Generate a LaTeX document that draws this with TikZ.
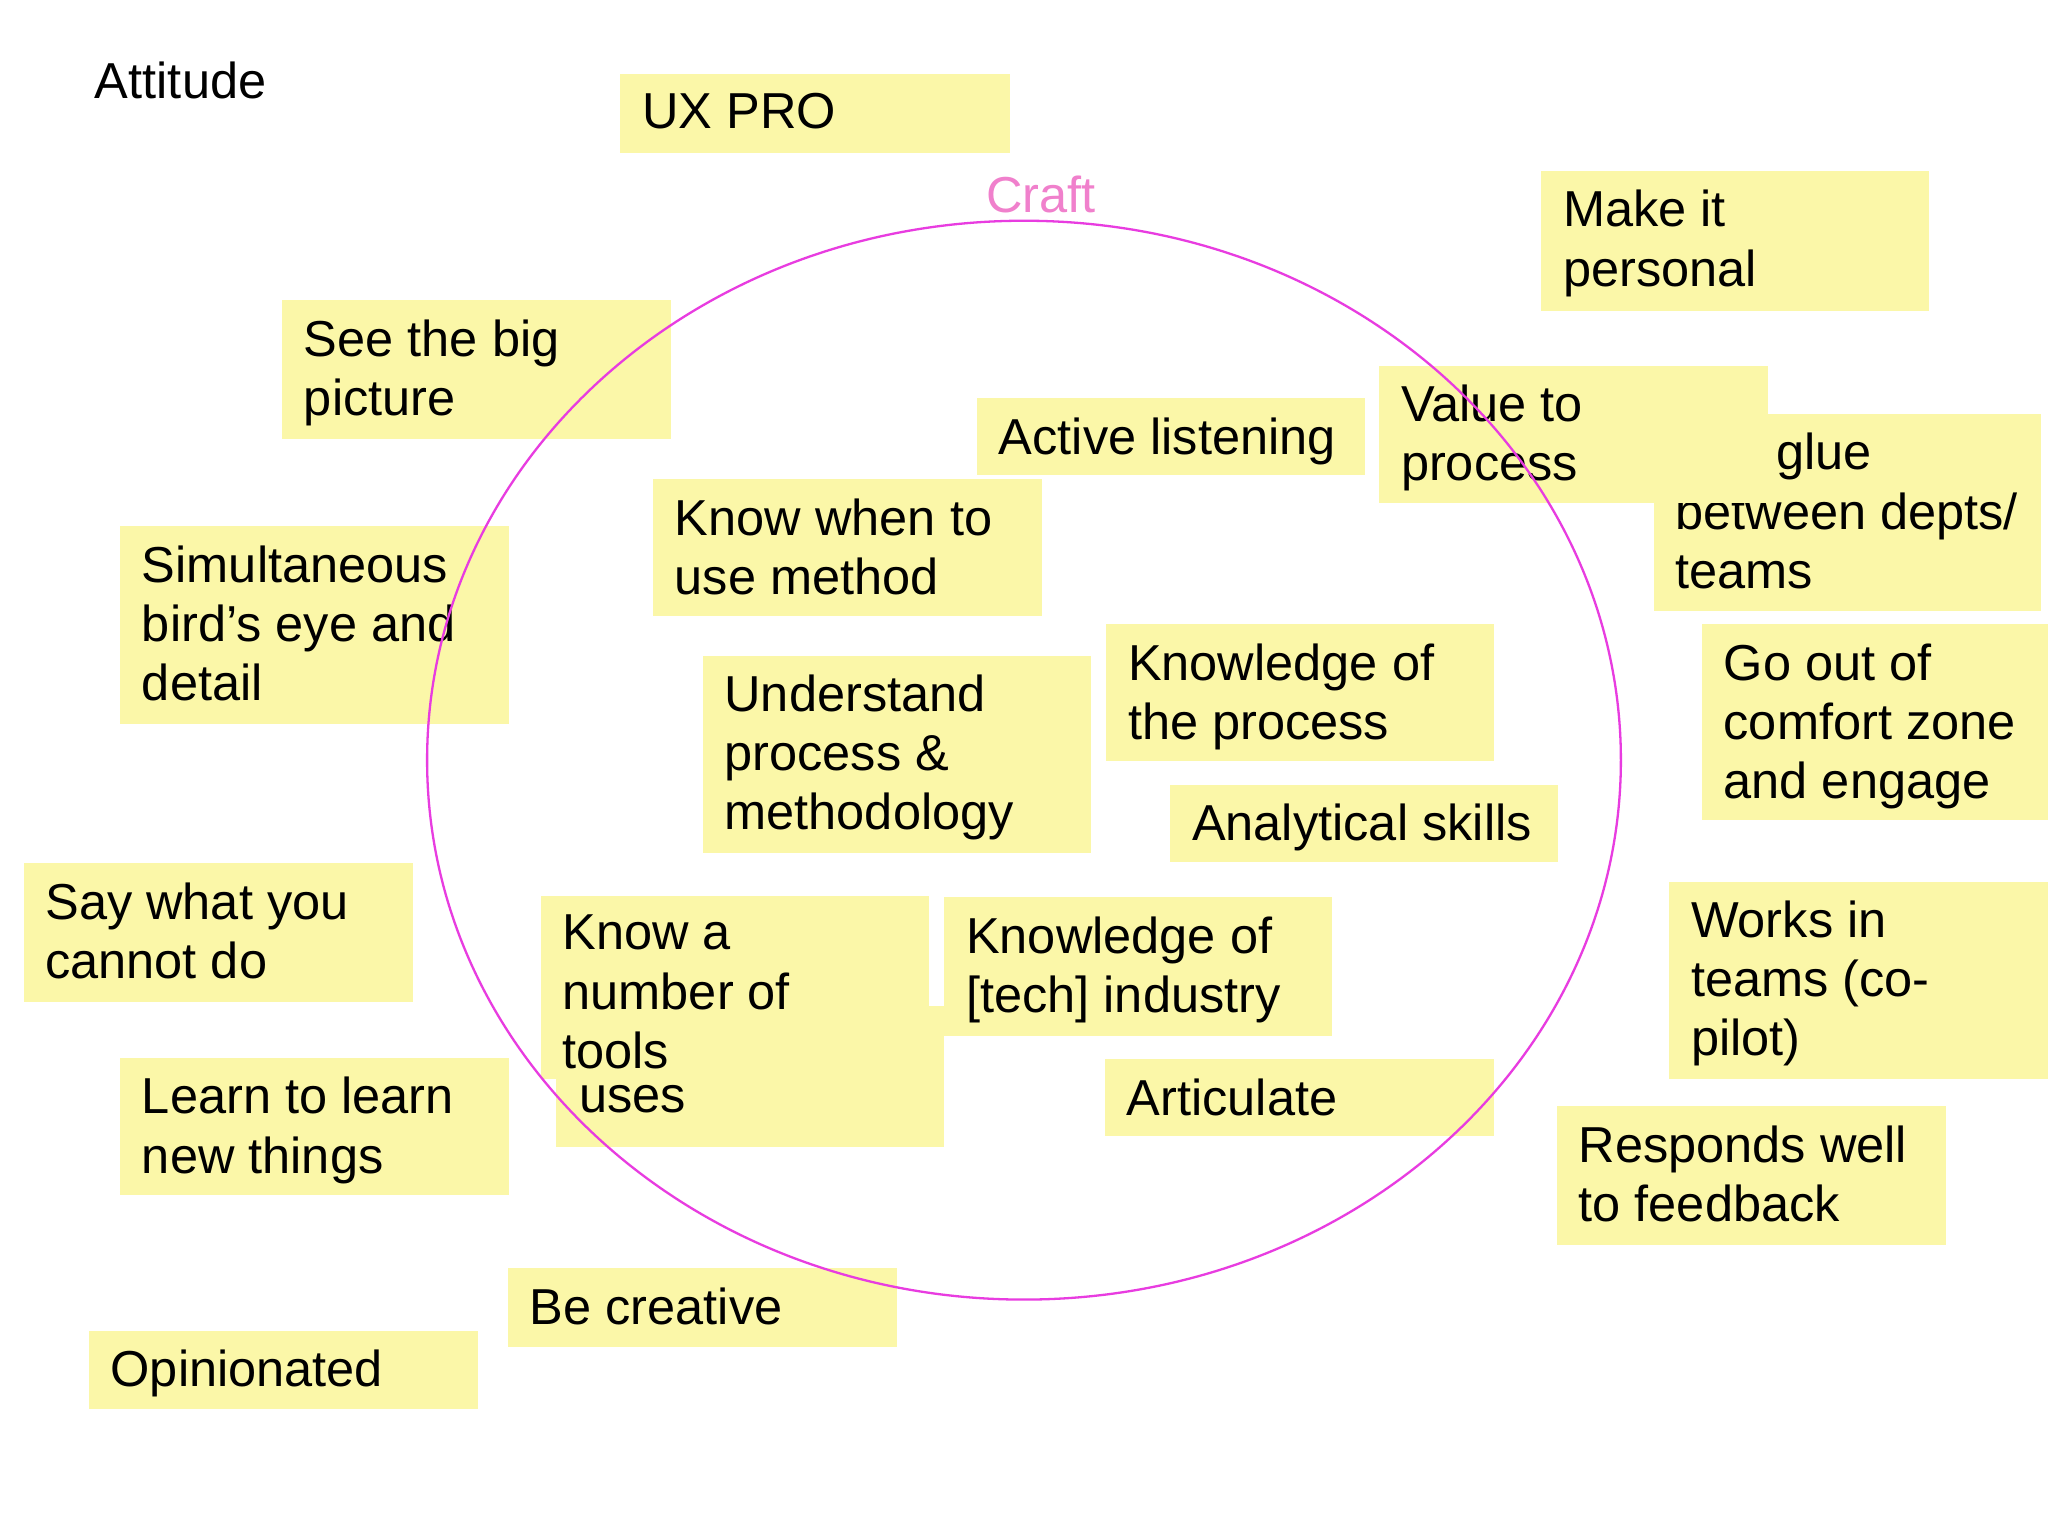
\documentclass[tikz,border=0pt]{standalone}
\usepackage{fontspec}
\setmainfont{Liberation Sans}
\definecolor{notey}{HTML}{FBF7A8}
\definecolor{crafttxt}{HTML}{F080CC}
\definecolor{ringc}{HTML}{E83CE0}
\tikzset{
  note/.style={fill=notey, draw=none},
  lbl/.style={anchor=north west, inner sep=0pt, align=left, font=\fontsize{11}{12.9}\selectfont},
}
\newcommand{\stickynote}[6]{%
  \fill[note] (#2,#3) rectangle (#4,#5);
  \node[lbl] (#1) at (#2+16,#3+14) {#6};}
\begin{document}
\begin{tikzpicture}[x=0.01cm,y=-0.01cm]
\useasboundingbox (0,0) rectangle (1568,1176);
\fill[white] (0,0) rectangle (1568,1176);
\node[lbl] (att) at (72,47) {Attitude};
\stickynote{ux}{475}{57}{773}{117}{UX PRO}
\stickynote{mip}{1180}{131}{1477}{238}{Make it\\personal}
\stickynote{sbp}{216}{230}{514}{336}{See the big\\picture}
\stickynote{al}{748}{305}{1045}{364}{Active listening}
\stickynote{glue}{1266}{317}{1563}{468}{The glue\\between depts/\\teams}
\stickynote{vtp}{1056}{280}{1354}{385}{Value to\\process}
\stickynote{kwt}{500}{367}{798}{472}{Know when to\\use method}
\stickynote{sim}{92}{403}{390}{554}{Simultaneous\\bird’s eye and\\detail}
\stickynote{kop}{847}{478}{1144}{583}{Knowledge of\\the process}
\stickynote{upm}{538}{502}{835}{653}{Understand\\process \&\\methodology}
\stickynote{goc}{1303}{478}{1568}{628}{Go out of\\comfort zone\\and engage}
\stickynote{ana}{896}{601}{1193}{660}{Analytical skills}
\stickynote{swy}{18}{661}{316}{767}{Say what you\\cannot do}
\fill[note] (426,770) rectangle (723,878);
\node[lbl] (uses) at (443,830) {uses};
\stickynote{kan}{414}{686}{711}{826}{Know a\\number of\\tools}
\stickynote{kti}{723}{687}{1020}{793}{Knowledge of\\{}[tech] industry}
\stickynote{wit}{1278}{675}{1568}{826}{Works in\\teams (co-\\pilot)}
\stickynote{ltl}{92}{810}{390}{915}{Learn to learn\\new things}
\stickynote{art}{846}{811}{1144}{870}{Articulate}
\stickynote{rwf}{1192}{847}{1490}{953}{Responds well\\to feedback}
\stickynote{bc}{389}{971}{687}{1031}{Be creative}
\stickynote{op}{68}{1019}{366}{1079}{Opinionated}
\draw[ringc, line width=0.5pt] (784,582) ellipse [x radius=457, y radius=413];
\node[font=\fontsize{11}{13}\selectfont, text=crafttxt, inner sep=0pt] (craft) at (797,149) {Craft};
\end{tikzpicture}
\end{document}
